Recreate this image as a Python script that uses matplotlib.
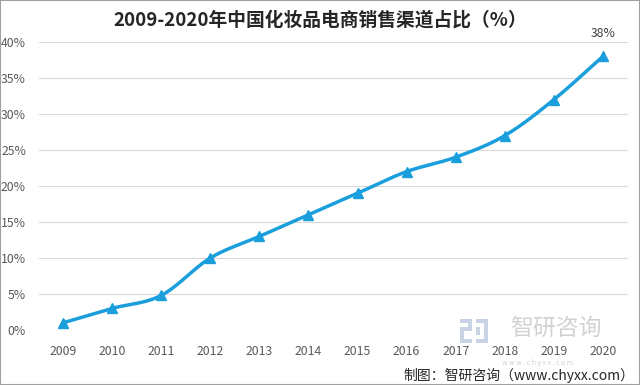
import numpy as np
import matplotlib
matplotlib.use("Agg")
import matplotlib.pyplot as plt

plt.rcParams['font.family'] = ['Noto Sans CJK SC', 'DejaVu Sans']

years = ['2009', '2010', '2011', '2012', '2013', '2014', '2015', '2016', '2017', '2018', '2019', '2020']
share = [1, 3, 4.8, 10, 13, 16, 19, 22, 24, 27, 32, 38]
yticks = [0, 5, 10, 15, 20, 25, 30, 35, 40]
title = '2009-2020年中国化妆品电商销售渠道占比（%）'
source = '制图：智研咨询（www.chyxx.com）'
brand = '智研咨询'
site = 'w w w . c h y x x . c o m'

color = '#1a9fdc'

fig = plt.figure(figsize=(6.4, 3.85), dpi=100)
ax = fig.add_axes([38.5/640, 1-330/385, (627.5-38.5)/640, (330-42)/385])

x = np.arange(len(years))
y = np.array(share, dtype=float)

# Catmull-Rom smoothing (Excel-like smooth line)
def smooth(xs, ys, n=20):
    px = np.concatenate([[2*xs[0]-xs[1]], xs, [2*xs[-1]-xs[-2]]])
    py = np.concatenate([[2*ys[0]-ys[1]], ys, [2*ys[-1]-ys[-2]]])
    ox, oy = [], []
    t = np.linspace(0, 1, n)
    for i in range(1, len(px)-2):
        for arr, out in ((px, ox), (py, oy)):
            p0, p1, p2, p3 = arr[i-1], arr[i], arr[i+1], arr[i+2]
            out.extend(0.5*((2*p1) + (-p0+p2)*t + (2*p0-5*p1+4*p2-p3)*t**2 + (-p0+3*p1-3*p2+p3)*t**3))
    return np.array(ox), np.array(oy)

sx, sy = smooth(x, y)
ax.plot(sx, sy, color=color, lw=2.5, zorder=3, solid_capstyle='round')
ax.plot(x, y, linestyle='none', marker='^', ms=7, color=color, zorder=4)

ax.set_xlim(-0.5, len(years)-0.5)
ax.set_ylim(0, 40)
ax.set_yticks(yticks)
ax.set_yticklabels([f'{v}%' for v in yticks])
ax.set_xticks(x)
ax.set_xticklabels(years)
ax.grid(axis='y', color='#d9d9d9', lw=0.8)
ax.set_axisbelow(True)
for s in ax.spines.values():
    s.set_visible(False)
ax.tick_params(length=0, labelsize=8.8, colors='#595959')
ax.tick_params(axis='x', pad=11)
ax.tick_params(axis='y', pad=9)

ax.annotate(f'{share[-1]:g}%', (x[-1], y[-1]), xytext=(0, 12), textcoords='offset points',
            ha='center', va='bottom', fontsize=8.8, color='#404040')

fig.text(0.5, 1-20/385, title, ha='center', va='center', fontsize=13.5, fontweight='bold', color='#262626')

# watermark logo
lc = '#c8d4e6'
for (lx, ly, lw_, lh) in [(460, 319, 12, 4), (468, 319, 4, 12), (460, 327, 12, 4),
                          (460, 327, 4, 16), (460, 339, 12, 4), (476, 319, 12, 4),
                          (484, 319, 4, 24), (476, 339, 12, 4), (476, 327, 4, 8)]:
    fig.patches.append(plt.Rectangle((lx/640, 1-(ly+lh)/385), lw_/640, lh/385,
                                     transform=fig.transFigure, fc=lc, ec='none', zorder=0))
fig.text(556/640, 1-328/385, brand, ha='center', va='center', fontsize=16.5, color='#d2d2d2',
         fontweight='light', zorder=0)
fig.text(538/640, 1-363/385, site, ha='center', va='center', fontsize=5, color='#d0d0d0', zorder=0)
fig.text(634/640, 1-375/385, source, ha='right', va='center', fontsize=10, color='#262626')

fig.patches.append(plt.Rectangle((0, 0), 1, 1, transform=fig.transFigure, fill=False, ec='#a0a0a0', lw=1.5))

fig.savefig('out.png', dpi=100)
